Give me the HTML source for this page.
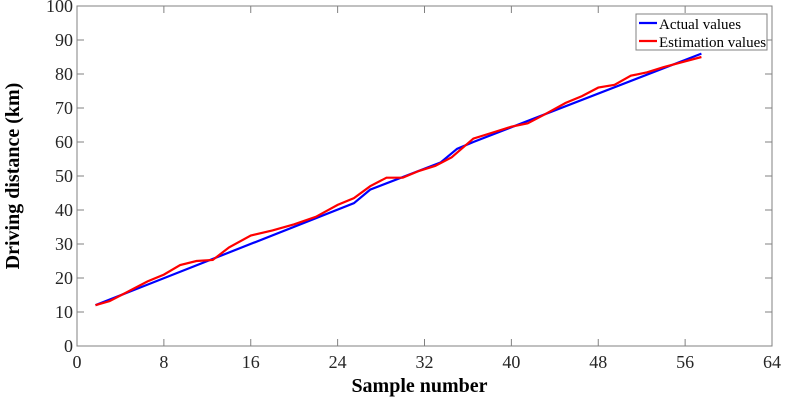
<!DOCTYPE html>
<html><head><meta charset="utf-8"><style>
body{margin:0;background:#fff;}
svg{display:block;font-family:"Liberation Serif",serif;}
</style></head><body>
<svg id="chart" width="785" height="401">
<g id="axes"></g><g id="series"></g><g id="legend"></g>
</svg>
<script>
const xTicks=[0,8,16,24,32,40,48,56,64];
const yTicks=[0,10,20,30,40,50,60,70,80,90,100];
const actualX=[1.7,25.5,27,33.5,35,36.5,57.5];
const actualY=[12,42,46,54,58,60,86];
const estX=[1.7,3,5,6.5,8,9.5,11,12.5,14,16,18,20,22,24,25.5,27,28.5,30,31.5,33,34.5,36.5,38,40,41.5,43,45,46.5,48,49.5,51,52.5,54,55.5,57.5];
const estY=[12,13.2,16.5,19,21,23.8,25,25.3,29,32.5,34,35.8,38,41.5,43.5,47,49.5,49.5,51.5,53,55.5,61,62.5,64.5,65.5,68,71.5,73.5,76,76.8,79.5,80.5,82,83.3,85];
const L=77,R=772,T=6,B=346;
const sx=v=>L+(v-0)/64*(R-L);
const sy=v=>B-(v-0)/100*(B-T);
const NS="http://www.w3.org/2000/svg";
function mk(tag,attrs,parent,text){const e=document.createElementNS(NS,tag);for(const k in attrs)e.setAttribute(k,attrs[k]);if(text!==undefined)e.textContent=text;parent.appendChild(e);return e;}
const ax=document.getElementById('axes');
const frame=mk('rect',{x:L,y:T,width:R-L,height:B-T,fill:'none',stroke:'#808080','stroke-width':1},ax);


xTicks.forEach(t=>{
  const x=sx(t);
  mk('line',{x1:x,x2:x,y1:B,y2:B-7,stroke:'#808080'},ax);
  mk('line',{x1:x,x2:x,y1:T,y2:T+7,stroke:'#808080'},ax);
  const lb=mk('text',{x:x,y:B+22,'text-anchor':'middle','font-size':18,fill:'#262626'},ax,t);
  
  
});
yTicks.forEach(t=>{
  const y=sy(t);
  mk('line',{x1:L,x2:L+7,y1:y,y2:y,stroke:'#808080'},ax);
  mk('line',{x1:R,x2:R-7,y1:y,y2:y,stroke:'#808080'},ax);
  const lb=mk('text',{x:L-4,y:y+6,'text-anchor':'end','font-size':18,fill:'#262626'},ax,t);
  
  
});
const xt=mk('text',{x:(L+R)/2-5,y:392,'text-anchor':'middle','font-size':20,'font-weight':'bold'},ax,'Sample number');


const yt=mk('text',{x:0,y:0,'text-anchor':'middle','font-size':20,'font-weight':'bold',transform:'translate(19,'+(T+B)/2+') rotate(-90)'},ax,'Driving distance (km)');


const se=document.getElementById('series');
const pa=mk('polyline',{points:actualX.map((v,i)=>sx(v)+','+sy(actualY[i])).join(' '),fill:'none',stroke:'#0000ff','stroke-width':2.2},se);


const pe=mk('polyline',{points:estX.map((v,i)=>sx(v)+','+sy(estY[i])).join(' '),fill:'none',stroke:'#ff0000','stroke-width':2.2},se);


const lg=document.getElementById('legend');
const box=mk('rect',{x:636,y:14,width:131,height:36,fill:'#fff',stroke:'#808080'},lg);


mk('line',{x1:639,x2:657,y1:23,y2:23,stroke:'#0000ff','stroke-width':2.2},lg);
const l1=mk('text',{x:659,y:29,'font-size':15},lg,'Actual values');


mk('line',{x1:639,x2:657,y1:41,y2:41,stroke:'#ff0000','stroke-width':2.2},lg);
const l2=mk('text',{x:659,y:47,'font-size':15},lg,'Estimation values');


</script>
</body></html>
